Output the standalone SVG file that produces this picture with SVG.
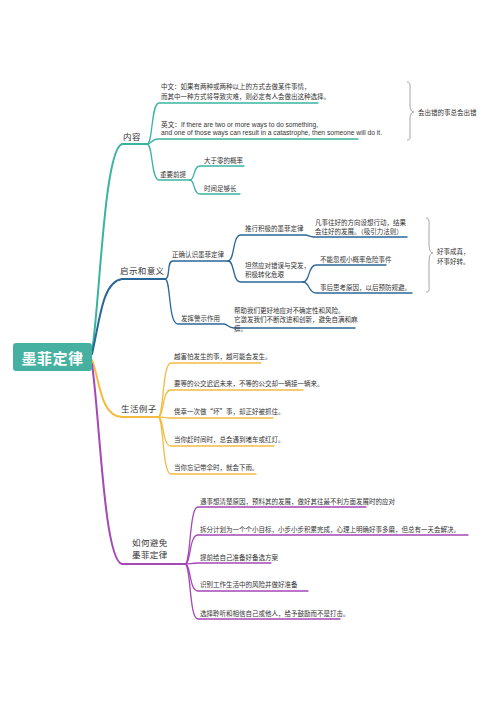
<svg xmlns="http://www.w3.org/2000/svg" width="500" height="707" viewBox="0 0 500 707">
<style>
text{font-family:"Noto Sans CJK SC","Liberation Sans",sans-serif;fill:#333;}
.t{font-size:6.5px;}
.en{font-family:"Liberation Sans","Noto Sans CJK SC",sans-serif;font-size:6.3px;}
.l1{font-size:8.5px;letter-spacing:0.4px;}
.root{font-size:15px;font-weight:bold;fill:#fff;letter-spacing:0.5px;}
.m{fill:none;stroke-width:2;stroke-linecap:round;}
.s{fill:none;stroke-width:1.3;stroke-linecap:round;}
.teal{stroke:#3ab4a0;}
.blue{stroke:#2b6796;}
.orange{stroke:#f2bc42;}
.purple{stroke:#a548b5;}
.brace{fill:none;stroke:#9a9a9a;stroke-width:0.9;}
</style>
<rect width="500" height="707" fill="#fff"/>
<g id="connectors">
<!-- teal -->
<path class="m teal" d="M92,352 C100,300 104,150 122,144 L147,144"/>
<path class="s teal" d="M147,144 C153,144 151,103 159,103 L318,103"/>
<path class="s teal" d="M147,144 C152,144 151,139 158,139 L358,139"/>
<path class="s teal" d="M147,144 C153,144 151,180 159,180 L190,180"/>
<path class="s teal" d="M190,180 C195,180 193,166 200,166 L244,166"/>
<path class="s teal" d="M190,180 C195,180 193,194 200,194 L240,194"/>
<!-- blue -->
<path class="m blue" d="M92,354 C100,320 102,282 122,279 L165,279"/>
<path class="s blue" d="M165,279 C171,279 166,261 173,261 L228,261"/>
<path class="s blue" d="M165,279 C171,279 168,324 178,324 L224,324 C228,324 228,328 234,328 L355,328"/>
<path class="s blue" d="M228,261 C235,261 232,235 241,235 L305,235 C309,235 309,237 314,237 L407,237"/>
<path class="s blue" d="M228,261 C235,261 232,282 241,282 L303,282"/>
<path class="s blue" d="M303,282 C310,282 308,265 316,265 L386,265"/>
<path class="s blue" d="M303,282 C310,282 308,293 316,293 L412,293"/>
<!-- orange -->
<path class="m orange" d="M92,360 C100,380 100,416 122,417 L158,417"/>
<path class="s orange" d="M158,417 C164,417 162,363 171,363 L261,363"/>
<path class="s orange" d="M158,417 C164,417 162,390 171,390 L303,390"/>
<path class="s orange" d="M158,417 C164,417 164,418 171,418 L273,418"/>
<path class="s orange" d="M158,417 C164,417 162,446 171,446 L274,446"/>
<path class="s orange" d="M158,417 C164,417 162,474 171,474 L256,474"/>
<!-- purple -->
<path class="m purple" d="M92,364 C100,420 104,560 122,564 L185,564"/>
<path class="s purple" d="M185,564 C191,564 189,507 198,507 L366,507"/>
<path class="s purple" d="M185,564 C191,564 189,535 198,535 L468,535"/>
<path class="s purple" d="M185,564 C191,564 191,563 198,563 L271,563"/>
<path class="s purple" d="M185,564 C191,564 189,591 198,591 L308,591"/>
<path class="s purple" d="M185,564 C191,564 189,619 198,619 L340,619"/>
<!-- braces -->
<path class="brace" d="M407,82 C411,82 410,86 410,92 L410,104 C410,109 411,112 414,112 C411,112 410,115 410,120 L410,132 C410,138 411,140 407,140"/>
<path class="brace" d="M426,218 C430,218 429,222 429,230 L429,243 C429,249 430,253 433,253 C430,253 429,257 429,263 L429,282 C429,290 430,292 426,292"/>
</g>
<g id="root">
<rect x="13" y="343" width="79" height="28" rx="3" fill="#46b1a1"/>
<text class="root" x="52.5" y="363.5" text-anchor="middle">墨菲定律</text>
</g>
<g id="n-neirong"><text class="l1" x="123" y="140">内容</text></g>
<g id="n-zhongwen">
<text class="t" x="161" y="89">中文：如果有两种或两种以上的方式去做某件事情，</text>
<text class="t" x="161" y="98.5">而其中一种方式将导致灾难，则必定有人会做出这种选择。</text>
</g>
<g id="n-yingwen">
<text class="en" x="161" y="126.5" textLength="157" lengthAdjust="spacingAndGlyphs">英文：If there are two or more ways to do something,</text>
<text class="en" x="161" y="134.5" textLength="221" lengthAdjust="spacingAndGlyphs">and one of those ways can result in a catastrophe, then someone will do it.</text>
</g>
<g id="n-qianti"><text class="t" x="160" y="176.5">重要前提</text></g>
<g id="n-gailv"><text class="t" x="204" y="162.5">大于零的概率</text></g>
<g id="n-shijian"><text class="t" x="204" y="191">时间足够长</text></g>
<g id="n-brace1"><text class="t" x="418" y="114.5">会出错的事总会出错</text></g>
<g id="n-qishi"><text class="l1" x="120" y="274">启示和意义</text></g>
<g id="n-zhengque"><text class="t" x="172" y="256.5">正确认识墨菲定律</text></g>
<g id="n-tuixing"><text class="t" x="245" y="230.5">推行积极的墨菲定律</text></g>
<g id="n-fanshi">
<text class="t" x="315" y="225">凡事往好的方向设想行动，结果</text>
<text class="t" x="315" y="234">会往好的发展。（吸引力法则）</text>
</g>
<g id="n-tanran">
<text class="t" x="245" y="267.5">坦然应对错误与突发，</text>
<text class="t" x="245" y="277">积极转化危艰</text>
</g>
<g id="n-buneng"><text class="t" x="320" y="261.5">不能忽视小概率危险事件</text></g>
<g id="n-shihou"><text class="t" x="320" y="289.5">事后思考原因，以后预防规避。</text></g>
<g id="n-brace2">
<text class="t" x="437" y="254">好事成真，</text>
<text class="t" x="437" y="264">坏事好转。</text>
</g>
<g id="n-fahui"><text class="t" x="181" y="321">发挥警示作用</text></g>
<g id="n-bangzhu">
<text class="t" x="234" y="313">帮助我们更好地应对不确定性和风险。</text>
<text class="t" x="234" y="321.5">它激发我们不断改进和创新，避免自满和麻</text>
<text class="t" x="234" y="331">痹。</text>
</g>
<g id="n-shenghuo"><text class="l1" x="121" y="412">生活例子</text></g>
<g id="n-e1"><text class="t" x="174" y="358.5">越害怕发生的事，越可能会发生。</text></g>
<g id="n-e2"><text class="t" x="174" y="386">要等的公交迟迟未来，不等的公交却一辆接一辆来。</text></g>
<g id="n-e3"><text class="t" x="174" y="413.5">侥幸一次做“坏”事，却正好被抓住。</text></g>
<g id="n-e4"><text class="t" x="174" y="441.5">当你赶时间时，总会遇到堵车或红灯。</text></g>
<g id="n-e5"><text class="t" x="174" y="469.5">当你忘记带伞时，就会下雨。</text></g>
<g id="n-bimian">
<text class="l1" x="132" y="546">如何避免</text>
<text class="l1" x="132" y="558">墨菲定律</text>
</g>
<g id="n-p1"><text class="t" x="200" y="504">遇事想清楚原因，预料其的发展，做好其往最不利方面发展时的应对</text></g>
<g id="n-p2"><text class="t" x="200" y="531.5">拆分计划为一个个小目标，小步小步积累完成，心理上明确好事多磨，但总有一天会解决。</text></g>
<g id="n-p3"><text class="t" x="200" y="560">提前给自己准备好备选方案</text></g>
<g id="n-p4"><text class="t" x="200" y="587">识别工作生活中的风险并做好准备</text></g>
<g id="n-p5"><text class="t" x="200" y="615.5">选择聆听和相信自己或他人，给予鼓励而不是打击。</text></g>
</svg>
